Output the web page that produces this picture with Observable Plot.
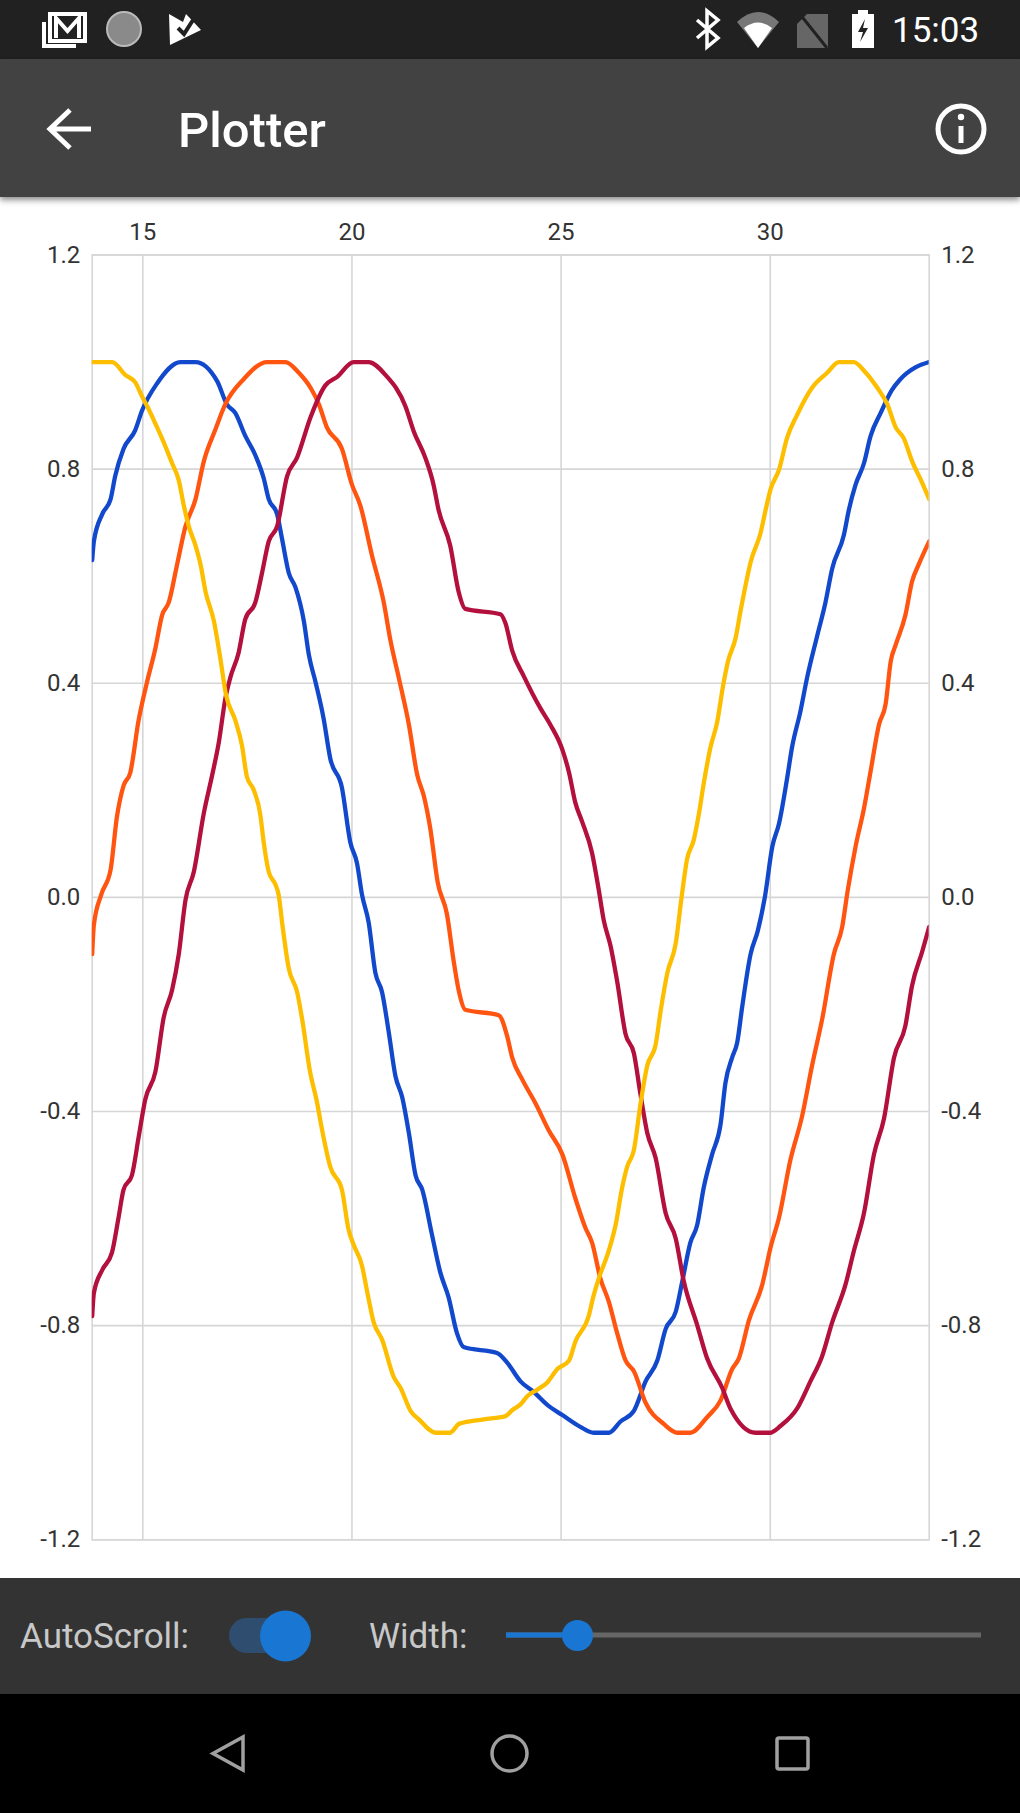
<!DOCTYPE html>
<html><head><meta charset="utf-8">
<script src="https://cdn.jsdelivr.net/npm/d3@7"></script>
<script src="https://cdn.jsdelivr.net/npm/@observablehq/plot@0.6"></script>
<style>
html,body{margin:0;padding:0;background:#000;width:1020px;height:1813px;overflow:hidden;font-family:Roboto,sans-serif}
#screen{position:relative;width:1020px;height:1813px}
.band{position:absolute;left:0;width:1020px}
#status{top:0;height:59px;background:#212121}
#appbar{top:59px;height:138px;background:#424242;box-shadow:0 3px 6px rgba(0,0,0,.45);z-index:2}
#chart{top:197px;height:1381px;background:#fff}
#chart svg{display:block;background:#fff}
#controls{top:1578px;height:116px;background:#333;border-top:0}
#nav{top:1694px;height:119px;background:#000}
.t{position:absolute;white-space:nowrap;line-height:1}
#icons{position:absolute;left:0;top:0;z-index:3}
</style></head><body>
<div id="screen">
<div class="band" id="status"></div>
<div class="band" id="appbar"></div>
<div class="band" id="chart"></div>
<div class="band" id="controls"></div>
<div class="band" id="nav"></div>
<div class="t" style="left:892px;top:13px;font-size:35px;color:#fff;z-index:3">15:03</div>
<div class="t" style="left:178px;top:106px;font-size:49px;font-weight:500;color:#fff;z-index:3">Plotter</div>
<div class="t" style="left:20px;top:1619px;font-size:35px;color:#c8c8c8;z-index:3">AutoScroll:</div>
<div class="t" style="left:369px;top:1619px;font-size:35px;color:#c8c8c8;z-index:3">Width:</div>
<svg id="icons" width="1020" height="1813" style="pointer-events:none">
  <!-- status bar -->
  <g fill="none" stroke="#fff">
    <rect x="50" y="14" width="35" height="27" fill="#212121" stroke-width="4"/>
    <path d="M44 22V46H76" stroke-width="4"/>
    <path d="M56 38V18L67.500 31L79 18V38" stroke-width="4"/>
  </g>
  <circle cx="124" cy="29" r="17" fill="#8a8a8a" stroke="#bbb" stroke-width="2"/>
  <path d="M169 14L183 22L186 14L201 30L170 45Z" fill="#fff"/>
  <path d="M178 28L184 34L193 20" fill="none" stroke="#212121" stroke-width="4"/>
  <path d="M697 20L718 38L707 47V11L718 20L697 38" fill="none" stroke="#fff" stroke-width="3.500"/>
  <path d="M737 22Q758 2 779 22L758 48Z" fill="#777"/>
  <path d="M744 28Q758 17 772 28L758 48Z" fill="#fff"/>
  <path d="M807 14H828V48H797V24Z" fill="#666"/>
  <path d="M799 13L827 48" stroke="#212121" stroke-width="3"/>
  <path d="M858 10H868V14H874V48H852V14H858Z" fill="#fff"/>
  <path d="M865 19L858 32H863L860 42L868 28H863Z" fill="#212121"/>
  <!-- app bar -->
  <path d="M91 129H53M70 110L50 129L70 148" fill="none" stroke="#fff" stroke-width="5"/>
  <circle cx="961" cy="129" r="23" fill="none" stroke="#fff" stroke-width="5"/>
  <path d="M961 126V143" stroke="#fff" stroke-width="5"/>
  <circle cx="961" cy="117" r="3.200" fill="#fff"/>
  <!-- controls -->
  <rect x="229" y="1618" width="60" height="35" rx="17.500" fill="#2f4d6e"/>
  <circle cx="285.500" cy="1636" r="25.500" fill="#1976D2"/>
  <rect x="506" y="1632.500" width="475" height="5" fill="#666"/>
  <rect x="506" y="1632.500" width="71" height="5" fill="#1976D2"/>
  <circle cx="577.500" cy="1635.500" r="15.500" fill="#1976D2"/>
  <!-- nav -->
  <g fill="none" stroke="#a0a0a0" stroke-width="3.500">
    <path d="M243 1737V1770L213 1753.500Z"/>
    <circle cx="509.500" cy="1753.500" r="17.500"/>
    <rect x="777" y="1738" width="31" height="31" rx="2"/>
  </g>
</svg>
</div>
<script>
const xTicks = [15, 20, 25, 30];
const yTicks = [-1.2, -0.8, -0.4, 0, 0.4, 0.8, 1.2];
const xDomain = [13.79, 33.80];
const yDomain = [-1.2, 1.2];

const yellow = [[13.79,1],[14.27,1],[14.58,.976],[14.82,.962],[14.98,.936],[15.12,.915],[15.3,.885],[15.5,.85],[15.7,.811],[15.86,.779],[15.98,.732],[16.1,.693],[16.26,.657],[16.38,.622],[16.5,.571],[16.7,.516],[16.84,.453],[16.99,.378],[17.21,.331],[17.37,.284],[17.49,.225],[17.65,.201],[17.81,.154],[17.89,.103],[18.01,.048],[18.17,.024],[18.25,.004],[18.33,-.047],[18.49,-.133],[18.69,-.177],[18.81,-.228],[18.99,-.322],[19.17,-.385],[19.28,-.432],[19.48,-.503],[19.76,-.546],[19.92,-.621],[20.04,-.649],[20.24,-.688],[20.36,-.735],[20.52,-.794],[20.72,-.826],[21,-.896],[21.16,-.916],[21.4,-.959],[21.6,-.975],[22,-1],[22.34,-1],[22.57,-.983],[23.15,-.975],[23.67,-.969],[23.83,-.958],[24.03,-.947],[24.19,-.932],[24.42,-.92],[24.67,-.906],[24.91,-.881],[25.19,-.865],[25.34,-.83],[25.66,-.782],[25.78,-.743],[25.9,-.712],[26.14,-.66],[26.3,-.613],[26.46,-.542],[26.58,-.503],[26.74,-.472],[26.9,-.385],[27.06,-.314],[27.26,-.275],[27.38,-.212],[27.54,-.141],[27.74,-.086],[27.88,.0],[28.01,.071],[28.17,.107],[28.29,.154],[28.41,.213],[28.57,.28],[28.73,.327],[28.87,.394],[28.99,.441],[29.17,.484],[29.29,.535],[29.45,.598],[29.53,.626],[29.77,.681],[29.89,.724],[30.01,.763],[30.21,.799],[30.4,.858],[30.64,.901],[31,.952],[31.36,.98],[31.64,1],[32,1],[32.24,.984],[32.56,.952],[32.8,.921],[33,.878],[33.19,.858],[33.39,.815],[33.63,.775],[33.8,.744]];

const blue = [[13.79,.63],[13.83,.665],[14.03,.716],[14.23,.744],[14.34,.787],[14.54,.838],[14.82,.873],[14.98,.909],[15.34,.96],[15.9,1],[16.26,1],[16.78,.964],[17.01,.921],[17.21,.905],[17.45,.862],[17.69,.826],[17.89,.783],[18.01,.744],[18.21,.716],[18.33,.669],[18.49,.606],[18.65,.579],[18.85,.516],[18.97,.453],[19.13,.402],[19.32,.335],[19.48,.26],[19.76,.205],[19.96,.103],[20.12,.064],[20.24,.005],[20.4,-.047],[20.56,-.141],[20.72,-.177],[20.88,-.252],[21.04,-.334],[21.2,-.373],[21.36,-.44],[21.52,-.519],[21.68,-.546],[21.91,-.629],[22.11,-.7],[22.31,-.747],[22.51,-.814],[22.67,-.84],[23.47,-.851],[23.71,-.869],[24.03,-.904],[24.35,-.924],[24.67,-.948],[25.03,-.967],[25.46,-.989],[25.78,-1],[26.14,-1],[26.42,-.979],[26.74,-.959],[27.02,-.904],[27.3,-.865],[27.5,-.806],[27.74,-.774],[27.9,-.716],[28.09,-.645],[28.25,-.613],[28.41,-.542],[28.61,-.48],[28.81,-.425],[28.93,-.346],[29.09,-.299],[29.21,-.271],[29.33,-.204],[29.53,-.106],[29.7,-.063],[29.87,.0],[30.05,.095],[30.21,.138],[30.4,.221],[30.52,.28],[30.72,.347],[30.88,.41],[31.12,.488],[31.32,.551],[31.48,.614],[31.76,.677],[31.88,.724],[32.04,.771],[32.24,.811],[32.4,.862],[32.64,.905],[32.91,.948],[33.11,.968],[33.47,.99],[33.8,1]];

const orange = [[13.79,-.106],[13.83,-.051],[14.01,.006],[14.23,.052],[14.38,.15],[14.54,.209],[14.7,.233],[14.9,.331],[15.1,.402],[15.3,.465],[15.46,.527],[15.62,.551],[15.82,.622],[16.02,.693],[16.26,.744],[16.46,.815],[16.73,.873],[16.97,.921],[17.41,.968],[17.97,1],[18.41,1],[18.73,.98],[19.01,.952],[19.21,.921],[19.4,.878],[19.76,.838],[20,.771],[20.2,.732],[20.48,.638],[20.76,.551],[20.92,.48],[21.12,.41],[21.36,.323],[21.56,.229],[21.72,.189],[21.87,.13],[22.05,.028],[22.27,-.031],[22.43,-.118],[22.55,-.173],[22.71,-.21],[23.51,-.22],[23.71,-.259],[23.83,-.299],[24.07,-.34],[24.39,-.385],[24.71,-.436],[25.03,-.48],[25.34,-.562],[25.58,-.617],[25.74,-.645],[25.94,-.712],[26.14,-.755],[26.34,-.814],[26.54,-.865],[26.74,-.885],[27.02,-.944],[27.46,-.984],[27.78,-1],[28.09,-1],[28.49,-.971],[28.81,-.94],[29.09,-.881],[29.25,-.861],[29.49,-.79],[29.81,-.723],[30.01,-.653],[30.21,-.598],[30.48,-.491],[30.76,-.409],[31,-.314],[31.24,-.228],[31.52,-.106],[31.72,-.055],[31.85,.012],[32.04,.095],[32.24,.166],[32.4,.236],[32.6,.323],[32.76,.362],[32.88,.441],[33,.472],[33.23,.527],[33.39,.59],[33.55,.622],[33.8,.665]];

const crimson = [[13.79,-.782],[13.83,-.739],[14.03,-.696],[14.26,-.664],[14.42,-.598],[14.54,-.546],[14.74,-.519],[14.9,-.448],[15.06,-.377],[15.3,-.326],[15.5,-.224],[15.7,-.173],[15.86,-.106],[16.02,-.005],[16.22,.048],[16.46,.158],[16.66,.229],[16.82,.291],[16.97,.37],[17.09,.41],[17.29,.457],[17.45,.52],[17.69,.551],[17.85,.606],[18.01,.665],[18.21,.693],[18.45,.787],[18.69,.822],[19.01,.897],[19.36,.956],[19.64,.972],[20.04,1],[20.4,1],[20.8,.976],[21.28,.917],[21.48,.87],[21.75,.822],[21.95,.771],[22.07,.724],[22.35,.657],[22.55,.571],[22.71,.539],[23.55,.529],[23.67,.512],[23.83,.461],[24.11,.413],[24.5,.354],[24.74,.323],[25.03,.276],[25.19,.233],[25.34,.177],[25.5,.142],[25.74,.083],[25.9,.014],[26.02,-.043],[26.18,-.09],[26.34,-.157],[26.54,-.255],[26.74,-.291],[26.9,-.369],[27.06,-.44],[27.26,-.487],[27.5,-.59],[27.74,-.637],[27.93,-.716],[28.25,-.798],[28.49,-.861],[28.85,-.916],[29.05,-.955],[29.65,-1],[29.99,-1],[30.25,-.987],[30.64,-.955],[30.96,-.904],[31.24,-.857],[31.48,-.794],[31.8,-.723],[32,-.66],[32.24,-.59],[32.48,-.48],[32.72,-.413],[32.96,-.299],[33.23,-.24],[33.39,-.165],[33.63,-.102],[33.8,-.055]];

const gridColor = "#d6d6d6";
const seriesLine = (data, stroke) => Plot.line(data, {x: d => d[0], y: d => d[1], stroke, strokeWidth: 4.3, curve: "monotone-x", clip: true});

const plot = Plot.plot({
  width: 1020, height: 1381,
  marginTop: 57.5, marginBottom: 38.7, marginLeft: 91.7, marginRight: 91.3,
  style: {fontFamily: "Roboto, sans-serif", fontSize: "24px", color: "#333", background: "#fff"},
  x: {domain: xDomain, ticks: xTicks},
  y: {domain: yDomain, ticks: yTicks},
  marks: [
    Plot.ruleX(xTicks, {stroke: gridColor, strokeWidth: 1.6}),
    Plot.ruleY(yTicks, {stroke: gridColor, strokeWidth: 1.6}),
    Plot.frame({stroke: gridColor, strokeWidth: 1.6}),
    Plot.axisX(xTicks, {anchor: "top", label: null, tickSize: 0, tickPadding: 15, fontSize: 24, fill: "#333"}),
    Plot.axisY(yTicks, {anchor: "left", label: null, tickSize: 0, tickPadding: 12, tickFormat: d => d.toFixed(1), fontSize: 24, fill: "#333"}),
    Plot.axisY(yTicks, {anchor: "right", label: null, tickSize: 0, tickPadding: 12, tickFormat: d => d.toFixed(1), fontSize: 24, fill: "#333"}),
    seriesLine(blue, "#1249CC"),
    seriesLine(orange, "#FF5511"),
    seriesLine(crimson, "#B3103E"),
    seriesLine(yellow, "#FDBE00")
  ]
});
document.getElementById("chart").appendChild(plot);
</script>
</body></html>
